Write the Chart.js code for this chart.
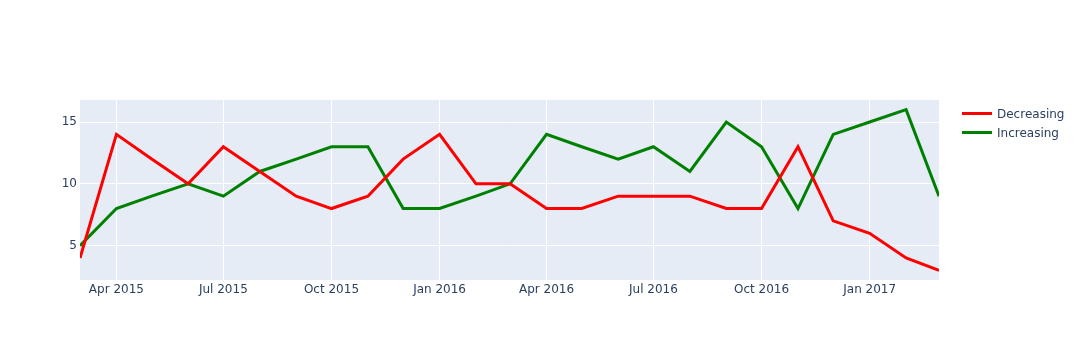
<!DOCTYPE html>
<html>
<head>
<meta charset="utf-8">
<script src="https://cdn.jsdelivr.net/npm/chart.js@4/dist/chart.umd.min.js"></script>
<style>
  html, body { margin: 0; padding: 0; background: #fff; }
  #wrap { position: relative; width: 1081px; height: 360px; }
  #legend { position: absolute; left: 962px; top: 105px; font: 12px "DejaVu Sans", sans-serif; color: #2a3f5f; }
  .item { position: relative; height: 19px; line-height: 19px; white-space: nowrap; }
  .swatch { display: inline-block; width: 30px; height: 0; border-top: 3px solid; vertical-align: middle; margin-right: 5px; position: relative; top: -1px; }
</style>
</head>
<body>
<div id="wrap">
  <canvas id="c" width="1081" height="360"></canvas>
  <div id="legend"></div>
</div>
<script>
// Monthly dates, Mar 2015 – Mar 2017
const months = ["2015-03","2015-04","2015-05","2015-06","2015-07","2015-08","2015-09","2015-10","2015-11","2015-12",
                "2016-01","2016-02","2016-03","2016-04","2016-05","2016-06","2016-07","2016-08","2016-09","2016-10","2016-11","2016-12",
                "2017-01","2017-02","2017-03"];
const decreasing = [4,14,12,10,13,11,9,8,9,12,14,10,10,8,8,9,9,9,8,8,13,7,6,4,3];
const increasing = [5,8,9,10,9,11,12,13,13,8,8,9,10,14,13,12,13,11,15,13,8,14,15,16,9];
const seriesNames = ["Decreasing", "Increasing"];
const seriesColors = ["red", "green"];
const xTickLabels = ["Apr 2015","Jul 2015","Oct 2015","Jan 2016","Apr 2016","Jul 2016","Oct 2016","Jan 2017"];
const xTickDates = ["2015-04","2015-07","2015-10","2016-01","2016-04","2016-07","2016-10","2017-01"];
const yTicks = [5, 10, 15];

function ts(ym) { const [y, m] = ym.split("-").map(Number); return Date.UTC(y, m - 1, 1); }
const xs = months.map(ts);
const xTickVals = xTickDates.map(ts);

const font = { family: "'DejaVu Sans', sans-serif", size: 12 };
const textColor = "#2a3f5f";

const chart = new Chart(document.getElementById("c"), {
  type: "line",
  data: {
    datasets: [decreasing, increasing].map((vals, i) => ({
      label: seriesNames[i],
      data: vals.map((v, j) => ({ x: xs[j], y: v })),
      borderColor: seriesColors[i],
      backgroundColor: seriesColors[i],
      borderWidth: 3,
      pointRadius: 0,
      tension: 0,
      fill: false
    }))
  },
  plugins: [{
    id: "bg",
    beforeDraw(ch) {
      const a = ch.chartArea, ctx = ch.ctx;
      ctx.save();
      ctx.fillStyle = "#E5ECF6";
      ctx.fillRect(a.left, a.top, a.right - a.left, a.bottom - a.top);
      ctx.restore();
    }
  }],
  options: {
    responsive: false,
    animation: false,
    layout: { padding: { left: 0, right: 142, top: 100, bottom: 0 } },
    plugins: { legend: { display: false }, tooltip: { enabled: false } },
    scales: {
      x: {
        type: "linear",
        min: xs[0],
        max: xs[xs.length - 1],
        afterBuildTicks(s) { s.ticks = xTickVals.map(v => ({ value: v })); },
        afterFit(s) { s.height = 80; },
        ticks: {
          autoSkip: false, maxRotation: 0, padding: 3, color: textColor, font,
          callback(v) { const k = xTickVals.indexOf(v); return k >= 0 ? xTickLabels[k] : ""; }
        },
        grid: { color: "#ffffff", lineWidth: 1, drawTicks: false },
        border: { display: false }
      },
      y: {
        type: "linear",
        min: 2.22,
        max: 16.78,
        afterBuildTicks(s) { s.ticks = yTicks.map(v => ({ value: v })); },
        afterFit(s) { s.width = 80; },
        ticks: { padding: 3, color: textColor, font },
        grid: { color: "#ffffff", lineWidth: 1, drawTicks: false },
        border: { display: false }
      }
    }
  }
});

const leg = document.getElementById("legend");
seriesNames.forEach((n, i) => {
  const d = document.createElement("div");
  d.className = "item";
  const sw = document.createElement("span");
  sw.className = "swatch";
  sw.style.borderColor = seriesColors[i];
  d.appendChild(sw);
  d.appendChild(document.createTextNode(n));
  leg.appendChild(d);
});
</script>
</body>
</html>
